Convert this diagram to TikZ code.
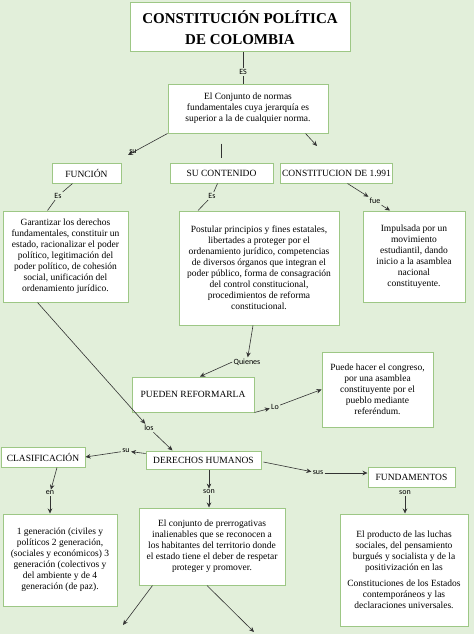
\documentclass[tikz,border=0pt]{standalone}
\usepackage{fontspec}
\setmainfont{Liberation Serif}
\newfontfamily\cplabfont{Carlito}
\usepackage{xcolor}
\definecolor{cpbg}{HTML}{E2EFDA}
\definecolor{cpedge}{HTML}{9DC785}
\usetikzlibrary{arrows.meta,positioning,calc}
\tikzset{
  cpbox/.style={draw=cpedge,line width=1pt,fill=white,align=center,inner sep=2pt,font=\fontsize{9.5}{11}\selectfont},
  cptitle/.style={cpbox,font=\fontsize{15}{21}\selectfont\bfseries},
  cplabel/.style={font=\cplabfont\fontsize{8}{9}\selectfont,fill=cpbg,inner sep=1.2pt},
  cpflow/.style={-{Stealth[length=5pt,width=4.5pt]},line width=0.6pt,draw=black!80},
  cpplain/.style={line width=0.6pt,draw=black!80},
}

\begin{document}
\begin{tikzpicture}[x=1pt,y=-1pt]
\fill[cpbg] (0,0) rectangle (474,634);
\useasboundingbox (0,0) rectangle (474,634);
% boxes
\node[cptitle,minimum width=220pt,minimum height=49pt] (tit) at (240,27.5) {CONSTITUCIÓN POLÍTICA\\DE COLOMBIA};
\node[cpbox,minimum width=160pt,minimum height=49pt] (conj) at (248,108.5) {El Conjunto de normas\\fundamentales cuya jerarquía es\\superior a la de cualquier norma.};
\node[cpbox,minimum width=69pt,minimum height=20pt] (fun) at (86.5,173) {FUNCIÓN};
\node[cpbox,minimum width=103pt,minimum height=20pt] (cont) at (221.5,173) {SU CONTENIDO};
\node[cpbox,minimum width=87pt,minimum height=20pt] (c91) at (336.5,173) {CONSTITUCION DE 1.991};
\node[cpbox,minimum width=125pt,minimum height=91pt] (gar) at (65.5,256.5) {Garantizar los derechos\\fundamentales, constituir un\\estado, racionalizar el poder\\político, legitimación del\\poder político, de cohesión\\social, unificación del\\ordenamiento jurídico.};
\node[cpbox,minimum width=160pt,minimum height=114pt] (post) at (259,268) {Postular principios y fines estatales,\\libertades a proteger por el\\ordenamiento jurídico, competencias\\de diversos órganos que integran el\\poder público, forma de consagración\\del control constitucional,\\procedimientos de reforma\\constitucional.};
\node[cpbox,minimum width=102pt,minimum height=91pt] (imp) at (414,256.5) {Impulsada por un\\movimiento\\estudiantil, dando\\inicio a la asamblea\\nacional\\constituyente.};
\node[cpbox,minimum width=122pt,minimum height=35pt] (pue) at (193,394.5) {PUEDEN REFORMARLA};
\node[cpbox,minimum width=111pt,minimum height=75pt] (hac) at (377.5,389.5) {Puede hacer el congreso,\\por una asamblea\\constituyente por el\\pueblo mediante\\referéndum.};
\node[cpbox,minimum width=115pt,minimum height=18pt] (dh) at (203.5,460) {DERECHOS HUMANOS};
\node[cpbox,minimum width=84pt,minimum height=20pt] (clas) at (43,457) {CLASIFICACIÓN};
\node[cpbox,minimum width=87pt,minimum height=20pt] (fund) at (411.5,477) {FUNDAMENTOS};
\node[cpbox,minimum width=114pt,minimum height=92pt] (gen) at (60,560) {1 generación (civiles y\\políticos 2 generación,\\(sociales y económicos) 3\\generación (colectivos y\\del ambiente y de 4\\generación (de paz).};
\node[cpbox,minimum width=146pt,minimum height=77pt] (prer) at (212,546.5) {El conjunto de prerrogativas\\inalienables que se reconocen a\\los habitantes del territorio donde\\el estado tiene el deber de respetar\\proteger y promover.};
\node[cpbox,minimum width=128pt,minimum height=112pt] (prod) at (404,570) {El producto de las luchas\\sociales, del pensamiento\\burgués y socialista y de la\\positivización en las\\[5pt]Constituciones de los Estados\\contemporáneos y las\\declaraciones universales.};
% labels
\node[cplabel] (es) at (243,72) {ES};
\node[cplabel] (es1) at (58,196) {Es};
\node[cplabel] (es2) at (212,196) {Es};
\node[cplabel] (fue) at (375,201) {fue};
\node[cplabel] (qui) at (247,362) {Quienes};
\node[cplabel] (lo) at (275,407) {Lo};
\node[cplabel] (los) at (149,428) {los};
\node[cplabel] (su2) at (126,451) {su};
\node[cplabel] (sus) at (318,473) {sus};
\node[cplabel] (en) at (50,493) {en};
\node[cplabel] (son1) at (209,492) {son};
\node[cplabel] (son2) at (405,493) {son};
% free ends
\coordinate (su1tip) at (128,155);
\coordinate (c91tip) at (317,146);
\coordinate (botl) at (123,625);
\coordinate (botr) at (254,632);
% connectors
\draw[cpplain] (tit.south -| es) -- (es) -- (conj.north -| es);
\draw[cpflow] (conj.south west) -- (su1tip) node[anchor=south west,font=\cplabfont\fontsize{8}{9}\selectfont,inner sep=1pt] {su};
\draw[cpplain,shorten <=10pt,shorten >=5pt] (conj.south -| cont.north) -- (cont.north);
\draw[cpflow] ($(conj.south east)+(-23,0)$) -- (c91tip);
\draw[cpplain] ($(fun.south)+(-14,0)$) -- (es1) -- ($(gar.north)+(-18,0)$);
\draw[cpplain] ($(cont.south)+(-4,0)$) -- (es2) -- ($(post.north)+(-61,0)$);
\draw[cpflow] ($(c91.south)+(11,0)$) -- (fue);
\draw[cpflow] (fue) -- ($(imp.north)+(-24,0)$);
\draw[cpflow] ($(post.south)+(-6,0)$) -- (qui);
\draw[cpflow] (qui.west) -- ($(pue.north)+(7,0)$);
\draw[cpflow] (pue.south east) -- (lo);
\draw[cpflow] (lo) -- (hac.west);
\draw[cpflow] ($(gar.south)+(-28,0)$) -- (los);
\draw[cpflow] (los) -- ($(dh.north)+(-31,0)$);
\draw[cpflow] ($(dh.north west)+(0,3)$) -- (su2);
\draw[cpflow] (su2) -- (clas.east);
\draw[cpflow] ($(dh.east)+(2,2)$) -- (sus);
\draw[cpflow] (sus) -- (sus -| fund.west);
\draw[cpflow] ($(clas.south)+(14,0)$) -- (en);
\draw[cpflow] (en) -- (en |- gen.north);
\draw[cpflow] (dh.south -| son1) -- (son1);
\draw[cpflow] (son1) -- (son1 |- prer.north);
\draw[cpflow] (son2) -- (son2 |- prod.north);
\draw[cpflow] ($(prer.south west)+(14,0)$) -- (botl);
\draw[cpflow] ($(prer.south)+(-5,0)$) -- (botr);
\end{tikzpicture}
\end{document}
